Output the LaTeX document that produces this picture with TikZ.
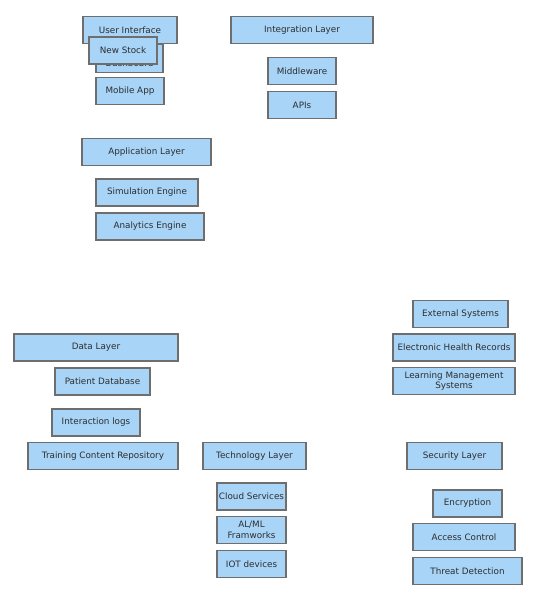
\documentclass[tikz,border=0pt]{standalone}
\usepackage{fontspec}
\usepackage{xcolor}
\usepackage{tikz}
\setmainfont{DejaVu Sans}
\definecolor{boxfill}{RGB}{168,212,248}
\definecolor{boxline}{RGB}{110,110,110}
\definecolor{boxtext}{RGB}{45,45,45}

\begin{document}
\begin{tikzpicture}[x=1pt, y=-1pt,
  layerbox/.style={draw=boxline, fill=boxfill, line width=1.1pt, inner sep=0pt, outer sep=0pt,
    minimum height=27pt, align=center, text=boxtext, font=\fontsize{8.8}{10.5}\selectfont}]
  \useasboundingbox (0,0) rectangle (536,600);
  % user interface
  \node[layerbox, minimum width=94pt] (ui) at (130,30) {User Interface};
  \node[layerbox, minimum width=67pt, minimum height=28pt, text height=17pt] (dash) at (129.5,58.5) {Dashboard};
  \node[layerbox, minimum width=68pt] (stock) at (123,50.5) {New Stock};
  \node[layerbox, minimum width=68pt] (mobile) at (130,91) {Mobile App};
  % integration
  \node[layerbox, minimum width=142pt] (integ) at (302,30) {Integration Layer};
  \node[layerbox, minimum width=68pt] (mw) at (302,71) {Middleware};
  \node[layerbox, minimum width=68pt] (apis) at (302,105) {APIs};
  % application
  \node[layerbox, minimum width=129pt] (app) at (146.5,152) {Application Layer};
  \node[layerbox, minimum width=102pt] (sim) at (147,192.5) {Simulation Engine};
  \node[layerbox, minimum width=108pt] (ana) at (150,226.5) {Analytics Engine};
  % data
  \node[layerbox, minimum width=164pt] (data) at (96,347.5) {Data Layer};
  \node[layerbox, minimum width=95pt] (patient) at (102.5,381.5) {Patient Database};
  \node[layerbox, minimum width=88pt] (logs) at (96,422.5) {Interaction logs};
  \node[layerbox, minimum width=150pt] (train) at (103,456) {Training Content Repository};
  % external
  \node[layerbox, minimum width=95pt] (ext) at (460.5,314) {External Systems};
  \node[layerbox, minimum width=122pt] (ehr) at (454,347.5) {Electronic Health Records};
  \node[layerbox, minimum width=122pt] (lms) at (454,381) {Learning Management\\Systems};
  % technology
  \node[layerbox, minimum width=103pt] (tech) at (254.5,456) {Technology Layer};
  \node[layerbox, minimum width=69pt] (cloud) at (251.5,496.5) {Cloud Services};
  \node[layerbox, minimum width=69pt] (aiml) at (251.5,530) {AL/ML\\Framworks};
  \node[layerbox, minimum width=69pt] (iot) at (251.5,564) {IOT devices};
  % security
  \node[layerbox, minimum width=95pt] (sec) at (454.5,456) {Security Layer};
  \node[layerbox, minimum width=69pt] (enc) at (467.5,503.5) {Encryption};
  \node[layerbox, minimum width=102pt] (acc) at (464,537) {Access Control};
  \node[layerbox, minimum width=109pt] (threat) at (467.5,571) {Threat Detection};
\end{tikzpicture}
\end{document}
